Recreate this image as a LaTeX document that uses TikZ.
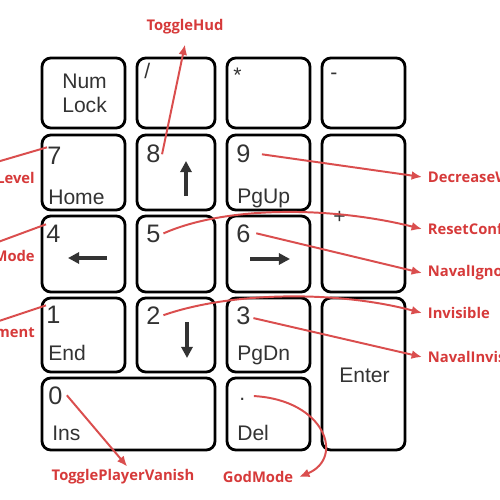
\documentclass[tikz,border=0pt]{standalone}
\usepackage{fontspec}
\setmainfont{Liberation Sans}
\newfontfamily\annfont{Open Sans}
\usetikzlibrary{arrows.meta}
\definecolor{annot}{RGB}{214,58,58}
\definecolor{keyink}{RGB}{51,51,51}

\begin{document}
\begin{tikzpicture}[x=0.25mm,y=-0.25mm,>={Latex[length=2.6mm,width=2.2mm]},line join=round,
  keybox/.style={line width=2pt,rounded corners=2.2mm},
  keytxt/.style={inner sep=0pt,anchor=base west,text=keyink,font=\fontsize{15}{15}\selectfont},
  digit/.style={keytxt,font=\fontsize{18}{18}\selectfont},
  dirarrow/.style={line width=2.4pt,draw=keyink,-{Triangle[length=2.8mm,width=2.8mm]}},
  tag/.style={inner xsep=4pt,inner ysep=2pt,text=annot,font=\annfont\bfseries\fontsize{10.5}{12}\selectfont},
  lefttag/.style={tag,anchor=east,inner xsep=0pt},
  link/.style={->,draw=annot!90,line width=1.4pt}]
  \useasboundingbox (0,0) rectangle (500,500);
  \clip (0,0) rectangle (500,500);
  % key caps
  \foreach \xa/\ya/\xb/\yb in {42/58/125/128,137/58/215/128,227/58/310/128,322/58/405/128,
      42/135/125/210,137/135/215/210,227/135/310/210,322/135/405/292,
      42/216/125/292,137/216/215/292,227/216/310/292,
      42/298/125/372,137/298/215/372,227/298/310/372,322/298/405/450,
      42/378/215/450,227/378/310/450}
    \draw[keybox] (\xa,\ya) rectangle (\xb,\yb);
  % top row
  \node[keytxt] (knum) at (62,89) {Num};
  \node[keytxt] (klock) at (62,113) {Lock};
  \node[keytxt] (kslash) at (144,79) {/};
  \node[keytxt] (kstar) at (233,83) {*};
  \node[keytxt] (kminus) at (330,80) {-};
  % digits and second legends
  \node[digit] (k7) at (47,165) {7};
  \node[keytxt] (khome) at (48,204) {Home};
  \node[digit] (k8) at (146,163) {8};
  \node[digit] (k9) at (236,163) {9};
  \node[keytxt] (kpgup) at (237,203) {PgUp};
  \node[keytxt] (kplus) at (333,223) {+};
  \node[digit] (k4) at (46,242) {4};
  \node[digit] (k5) at (146,242) {5};
  \node[digit] (k6) at (236,242) {6};
  \node[digit] (k1) at (46,323) {1};
  \node[keytxt] (kend) at (48,360) {End};
  \node[digit] (k2) at (146,324) {2};
  \node[digit] (k3) at (236,324) {3};
  \node[keytxt] (kpgdn) at (237,360) {PgDn};
  \node[keytxt] (kenter) at (339,382) {Enter};
  \node[digit] (k0) at (48,404) {0};
  \node[keytxt] (kins) at (52,440) {Ins};
  \node[keytxt] (kdot) at (239,400) {.};
  \node[keytxt] (kdel) at (237,440) {Del};
  % direction arrows on the keys
  \draw[dirarrow] (186,196)--(186,161);
  \draw[dirarrow] (107,258)--(68,258);
  \draw[dirarrow] (250,259)--(290,259);
  \draw[dirarrow] (187,322)--(187,358);
  % command labels
  \node[tag] (hud) at (185,27) {ToggleHud};
  \node[lefttag] (lvl) at (35,178) {Level};
  \node[lefttag] (mode) at (35,256) {Mode};
  \node[lefttag] (ment) at (35,333) {ment};
  \node[tag,anchor=west] (dec) at (422,177) {DecreaseW};
  \node[tag,anchor=west] (reset) at (422,229) {ResetConfl};
  \node[tag,anchor=west] (nign) at (422,273) {NavalIgnor};
  \node[tag,anchor=west] (invis) at (422,313) {Invisible};
  \node[tag,anchor=west] (ninv) at (422,357) {NavalInvisi};
  \node[tag] (vanish) at (123,477) {TogglePlayerVanish};
  \node[tag] (god) at (258,477) {GodMode};
  % loose ends off the left edge
  \coordinate (w7) at (-10,164);
  \coordinate (w4) at (-10,245);
  \coordinate (w1) at (-10,324);
  % connectors
  \draw[link] ([xshift=1pt]k8.east) -- ([yshift=-5pt]hud.south);
  \draw[link,-] (k7.north west) -- (w7);
  \draw[link,-] (k4.north west) -- (w4);
  \draw[link,-] (k1.north west) -- (w1);
  \draw[link] ([xshift=8pt]k9.east) -- (dec.west);
  \draw[link] ([xshift=2pt]k5.east) .. controls (225,206) and (330,206) .. (reset.west);
  \draw[link] ([xshift=4pt]k6.east) -- (nign.west);
  \draw[link] ([xshift=2pt]k2.east) .. controls (230,292) and (335,290) .. (invis.west);
  \draw[link] ([xshift=2pt,yshift=-2pt]k3.east) -- (ninv.west);
  \draw[link] ([xshift=3pt]k0.east) -- ([xshift=3pt]vanish.north);
  \draw[link] ([xshift=6pt,yshift=2pt]kdot.east) .. controls (325,400) and (345,458) .. (god.east);
\end{tikzpicture}
\end{document}
